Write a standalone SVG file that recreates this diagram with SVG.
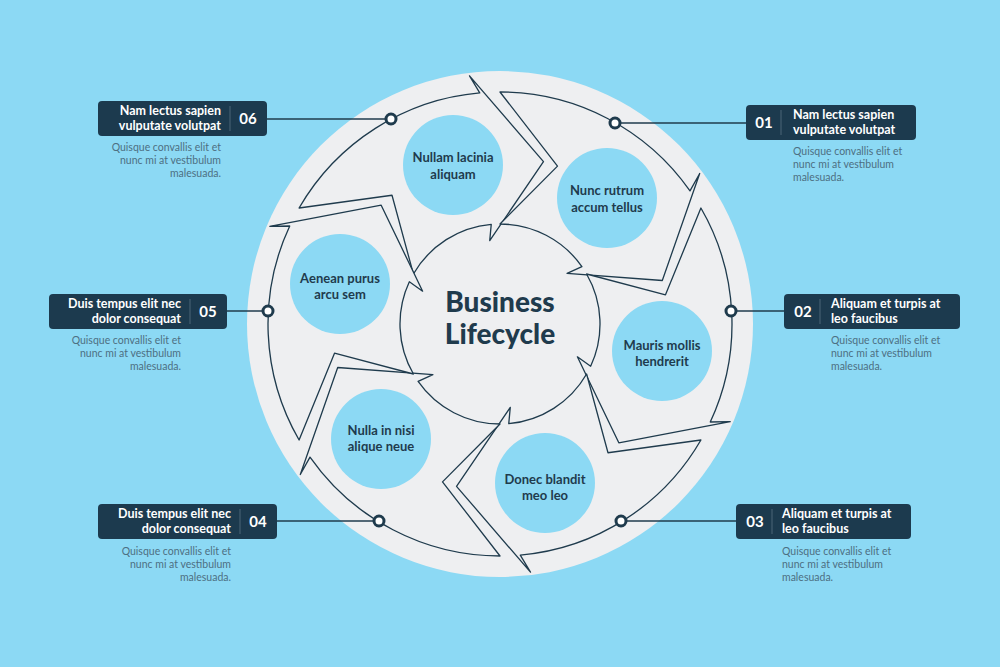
<svg xmlns="http://www.w3.org/2000/svg" width="1000" height="667" viewBox="0 0 1000 667">
<style>
.arr{fill:#eeeff1;stroke:#1f3b4d;stroke-width:1.3;stroke-linejoin:round}
.blob{fill:#8cd9f4}
.ct{font-family:Lato,"Open Sans",sans-serif;font-weight:700;font-size:13px;fill:#1f3b4d;text-anchor:middle}
.box{fill:#1c3a4e}
.bt{font-family:Lato,"Open Sans",sans-serif;font-weight:700;font-size:12.5px;fill:#fff}
.num{font-family:Lato,"Open Sans",sans-serif;font-weight:700;font-size:15px;fill:#fff;text-anchor:middle}
.div{stroke:#4a6577;stroke-width:1}
.ds{font-family:Lato,"Open Sans",sans-serif;font-size:10.5px;fill:#4d6f82}
.ln{stroke:#1f3b4d;stroke-width:1.3}
.dot{fill:#fff;stroke:#1f3b4d;stroke-width:3}
</style>
<defs>
<path id="a" d="M 232 0 A 232 232 0 0 1 133.1 190.0 L 150.5 199.7 L 43.5 162.3 L 50.6 67.1 L 57.4 81.9 A 100 100 0 0 0 100 0 L 157.9 57.5 Z"/>
</defs>
<rect width="1000" height="667" fill="#8cd9f4"/>
<circle cx="500" cy="324" r="253" fill="#eeeff1"/>
<g id="arrows">
<use href="#a" class="arr" transform="translate(500,324) rotate(-150)"/>
<use href="#a" class="arr" transform="translate(500,324) rotate(-90)"/>
<use href="#a" class="arr" transform="translate(500,324) rotate(-30)"/>
<use href="#a" class="arr" transform="translate(500,324) rotate(30)"/>
<use href="#a" class="arr" transform="translate(500,324) rotate(90)"/>
<use href="#a" class="arr" transform="translate(500,324) rotate(150)"/>
</g>
<g id="hub"><text class="ct" x="500" y="312" style="font-size:28px;font-weight:900">Business</text><text class="ct" x="500" y="344" style="font-size:28px;font-weight:900">Lifecycle</text></g>
<g id="s6"><circle class="blob" cx="453" cy="165" r="50"/><text class="ct" x="453" y="162">Nullam lacinia</text><text class="ct" x="453" y="179">aliquam</text></g>
<g id="s1"><circle class="blob" cx="607" cy="198" r="50"/><text class="ct" x="607" y="195">Nunc rutrum</text><text class="ct" x="607" y="212">accum tellus</text></g>
<g id="s2"><circle class="blob" cx="662" cy="351" r="50"/><text class="ct" x="662" y="350">Mauris mollis</text><text class="ct" x="662" y="366">hendrerit</text></g>
<g id="s3"><circle class="blob" cx="545" cy="483" r="50"/><text class="ct" x="545" y="484">Donec blandit</text><text class="ct" x="545" y="500">meo leo</text></g>
<g id="s4"><circle class="blob" cx="381" cy="439" r="50"/><text class="ct" x="381" y="435">Nulla in nisi</text><text class="ct" x="381" y="451">alique neue</text></g>
<g id="s5"><circle class="blob" cx="340" cy="284" r="50"/><text class="ct" x="340" y="283">Aenean purus</text><text class="ct" x="340" y="299">arcu sem</text></g>
<g id="connectors">
<line class="ln" x1="267" y1="119" x2="391" y2="119"/>
<line class="ln" x1="615" y1="123" x2="746" y2="123"/>
<line class="ln" x1="731" y1="311" x2="784" y2="311"/>
<line class="ln" x1="621" y1="521" x2="736" y2="521"/>
<line class="ln" x1="277" y1="521" x2="379" y2="521"/>
<line class="ln" x1="227" y1="311" x2="268" y2="311"/>
<circle class="dot" cx="391" cy="119" r="5"/>
<circle class="dot" cx="615" cy="123" r="5"/>
<circle class="dot" cx="731" cy="311" r="5"/>
<circle class="dot" cx="621" cy="521" r="5"/>
<circle class="dot" cx="379" cy="521" r="5"/>
<circle class="dot" cx="268" cy="311" r="5"/>
</g>
<g id="l01"><rect class="box" x="746" y="105" width="170" height="35" rx="4"/><text class="num" x="764" y="128">01</text><line class="div" x1="781" y1="110" x2="781" y2="135"/><text class="bt" x="793" y="119">Nam lectus sapien</text><text class="bt" x="793" y="134">vulputate volutpat</text>
<text class="ds" x="793" y="155">Quisque convallis elit et</text><text class="ds" x="793" y="168">nunc mi at vestibulum</text><text class="ds" x="793" y="181">malesuada.</text></g>
<g id="l02"><rect class="box" x="784" y="294" width="176" height="35" rx="4"/><text class="num" x="803" y="317">02</text><line class="div" x1="820" y1="299" x2="820" y2="324"/><text class="bt" x="831" y="308">Aliquam et turpis at</text><text class="bt" x="831" y="323">leo faucibus</text>
<text class="ds" x="831" y="344">Quisque convallis elit et</text><text class="ds" x="831" y="357">nunc mi at vestibulum</text><text class="ds" x="831" y="370">malesuada.</text></g>
<g id="l03"><rect class="box" x="736" y="504" width="175" height="35" rx="4"/><text class="num" x="755" y="527">03</text><line class="div" x1="772" y1="509" x2="772" y2="534"/><text class="bt" x="782" y="518">Aliquam et turpis at</text><text class="bt" x="782" y="533">leo faucibus</text>
<text class="ds" x="782" y="555">Quisque convallis elit et</text><text class="ds" x="782" y="568">nunc mi at vestibulum</text><text class="ds" x="782" y="581">malesuada.</text></g>
<g id="l04"><rect class="box" x="98" y="504" width="179" height="35" rx="4"/><text class="num" x="258" y="527">04</text><line class="div" x1="240" y1="509" x2="240" y2="534"/><text class="bt" x="231" y="518" text-anchor="end">Duis tempus elit nec</text><text class="bt" x="231" y="533" text-anchor="end">dolor consequat</text>
<text class="ds" x="231" y="555" text-anchor="end">Quisque convallis elit et</text><text class="ds" x="231" y="568" text-anchor="end">nunc mi at vestibulum</text><text class="ds" x="231" y="581" text-anchor="end">malesuada.</text></g>
<g id="l05"><rect class="box" x="49" y="294" width="178" height="35" rx="4"/><text class="num" x="208" y="317">05</text><line class="div" x1="190" y1="299" x2="190" y2="324"/><text class="bt" x="181" y="308" text-anchor="end">Duis tempus elit nec</text><text class="bt" x="181" y="323" text-anchor="end">dolor consequat</text>
<text class="ds" x="181" y="344" text-anchor="end">Quisque convallis elit et</text><text class="ds" x="181" y="357" text-anchor="end">nunc mi at vestibulum</text><text class="ds" x="181" y="370" text-anchor="end">malesuada.</text></g>
<g id="l06"><rect class="box" x="98" y="101" width="169" height="35" rx="4"/><text class="num" x="248" y="124">06</text><line class="div" x1="230" y1="106" x2="230" y2="131"/><text class="bt" x="221" y="115" text-anchor="end">Nam lectus sapien</text><text class="bt" x="221" y="130" text-anchor="end">vulputate volutpat</text>
<text class="ds" x="221" y="151" text-anchor="end">Quisque convallis elit et</text><text class="ds" x="221" y="164" text-anchor="end">nunc mi at vestibulum</text><text class="ds" x="221" y="177" text-anchor="end">malesuada.</text></g>
</svg>
